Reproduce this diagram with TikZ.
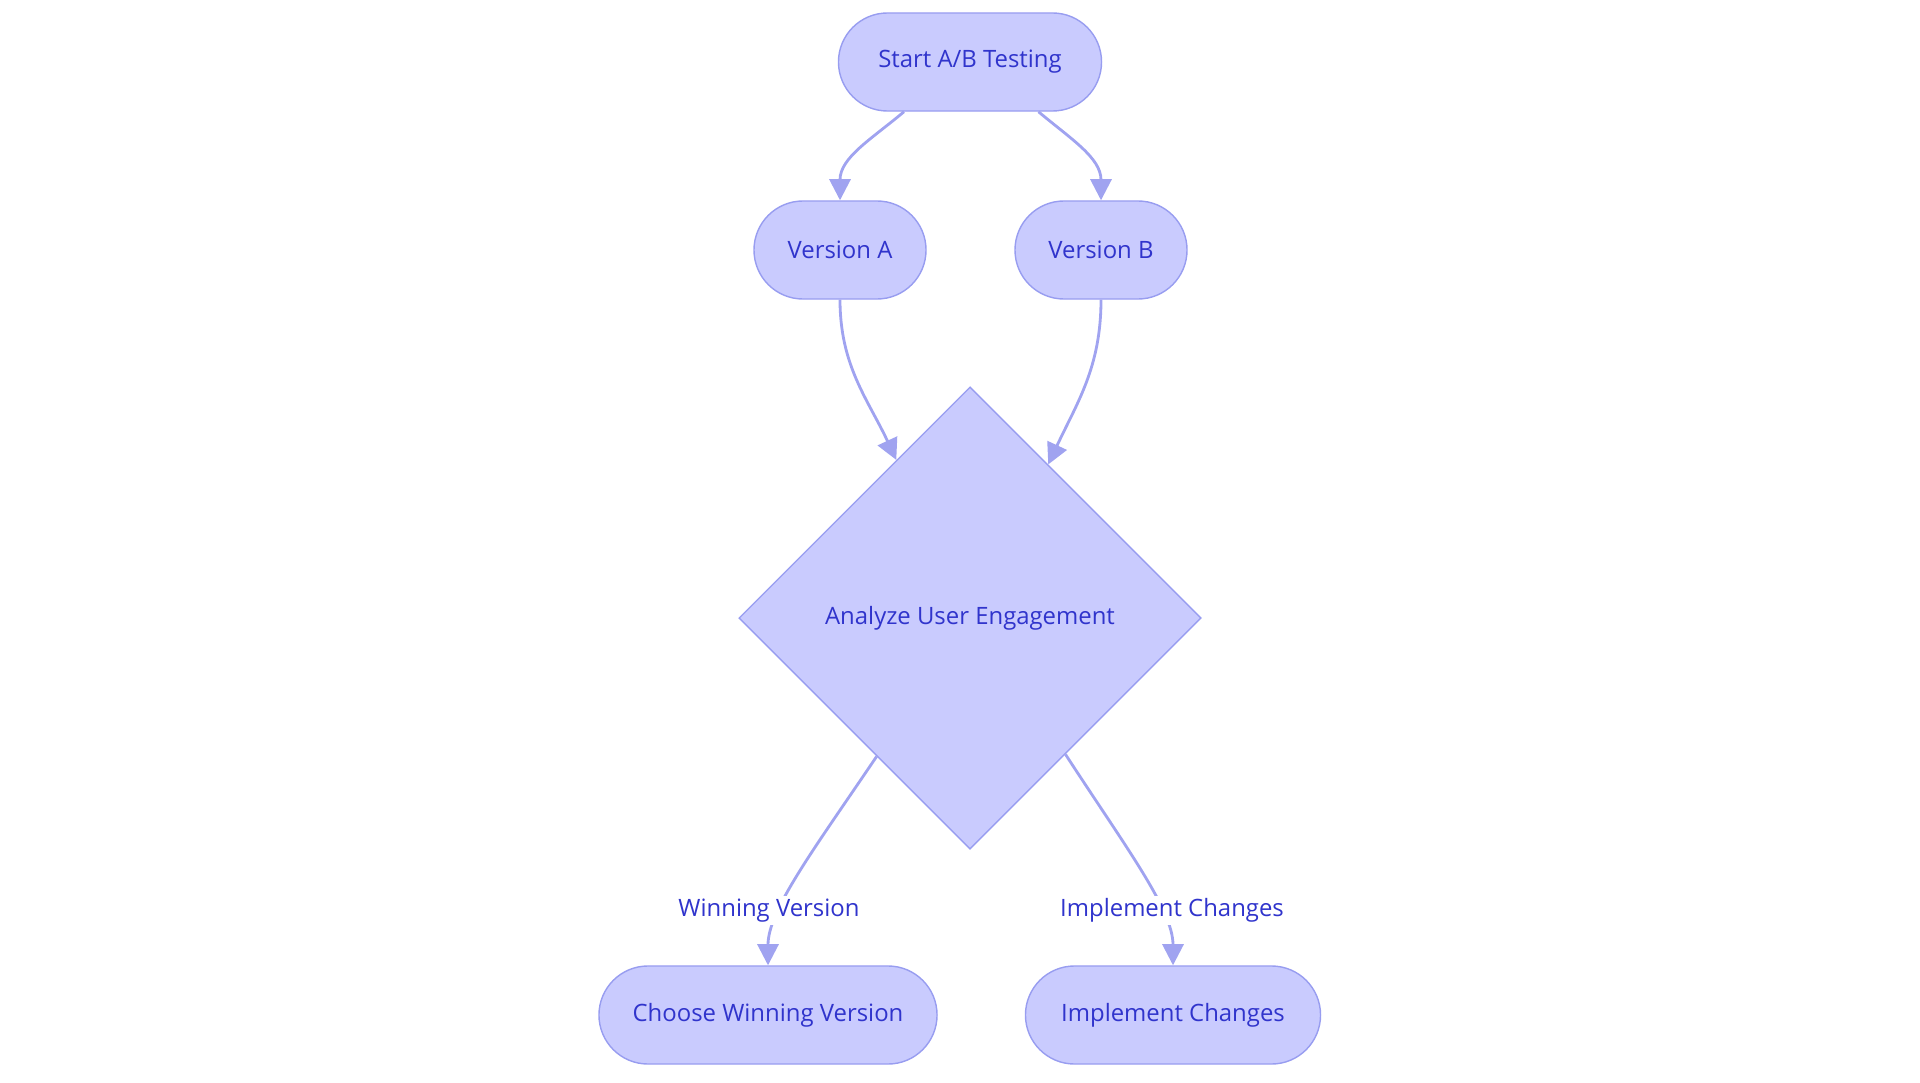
\documentclass[tikz,border=0pt]{standalone}
\usepackage{fontspec}
\setmainfont{Open Sans}
\usetikzlibrary{positioning,shapes.misc,shapes.geometric,arrows.meta}

\definecolor{boxfill}{RGB}{201,203,254}
\definecolor{boxline}{RGB}{152,157,240}
\definecolor{boxtext}{RGB}{48,52,204}
\definecolor{flowline}{RGB}{160,163,240}

\tikzset{
  pill/.style={rounded rectangle, draw=boxline, fill=boxfill, line width=1pt,
    text=boxtext, minimum height=2.45cm, inner sep=0pt, font=\fontsize{17}{20}\selectfont},
  decide/.style={diamond, draw=boxline, fill=boxfill, line width=1pt,
    text=boxtext, minimum width=11.55cm, minimum height=11.55cm, inner sep=0pt,
    font=\fontsize{17}{20}\selectfont},
  flow/.style={draw=flowline, line width=2pt, -{Triangle[length=15pt,width=15pt]}},
  elabel/.style={fill=white, text=boxtext, inner sep=2pt, font=\fontsize{17}{20}\selectfont}
}

\begin{document}
\begin{tikzpicture}[x=0.025cm, y=-0.025cm]
\useasboundingbox (0,0) rectangle (1920,1083);

\node[pill, minimum width=6.575cm] (start) at (970,62) {Start A/B Testing};
\node[pill, minimum width=4.3cm] (verA) at (840,250) {Version A};
\node[pill, minimum width=4.3cm] (verB) at (1101,250) {Version B};
\node[decide] (analyze) at (970,618) {Analyze User Engagement};
\node[pill, minimum width=8.45cm] (choose) at (768,1015) {Choose Winning Version};
\node[pill, minimum width=7.375cm] (implement) at (1173,1015) {Implement Changes};

\draw[flow] (start.-143) to[out=-140, in=90] (verA.north);
\draw[flow] (start.-36) to[out=-40, in=90] (verB.north);
\draw[flow] (verA.south) to[out=-90, in=115] (analyze.115);
\draw[flow] (verB.south) to[out=-90, in=65] (analyze.63);
\draw[flow] (analyze.-124) to[out=-124, in=90, out looseness=1.2, in looseness=0.6]
  node[elabel, pos=0.66, xshift=-0.35cm, yshift=-0.13cm] {Winning Version} (choose.north);
\draw[flow] (analyze.-55) to[out=-57, in=90, out looseness=1.2, in looseness=0.6]
  node[elabel, pos=0.66, xshift=0.35cm, yshift=-0.13cm] {Implement Changes} (implement.north);
\end{tikzpicture}
\end{document}
